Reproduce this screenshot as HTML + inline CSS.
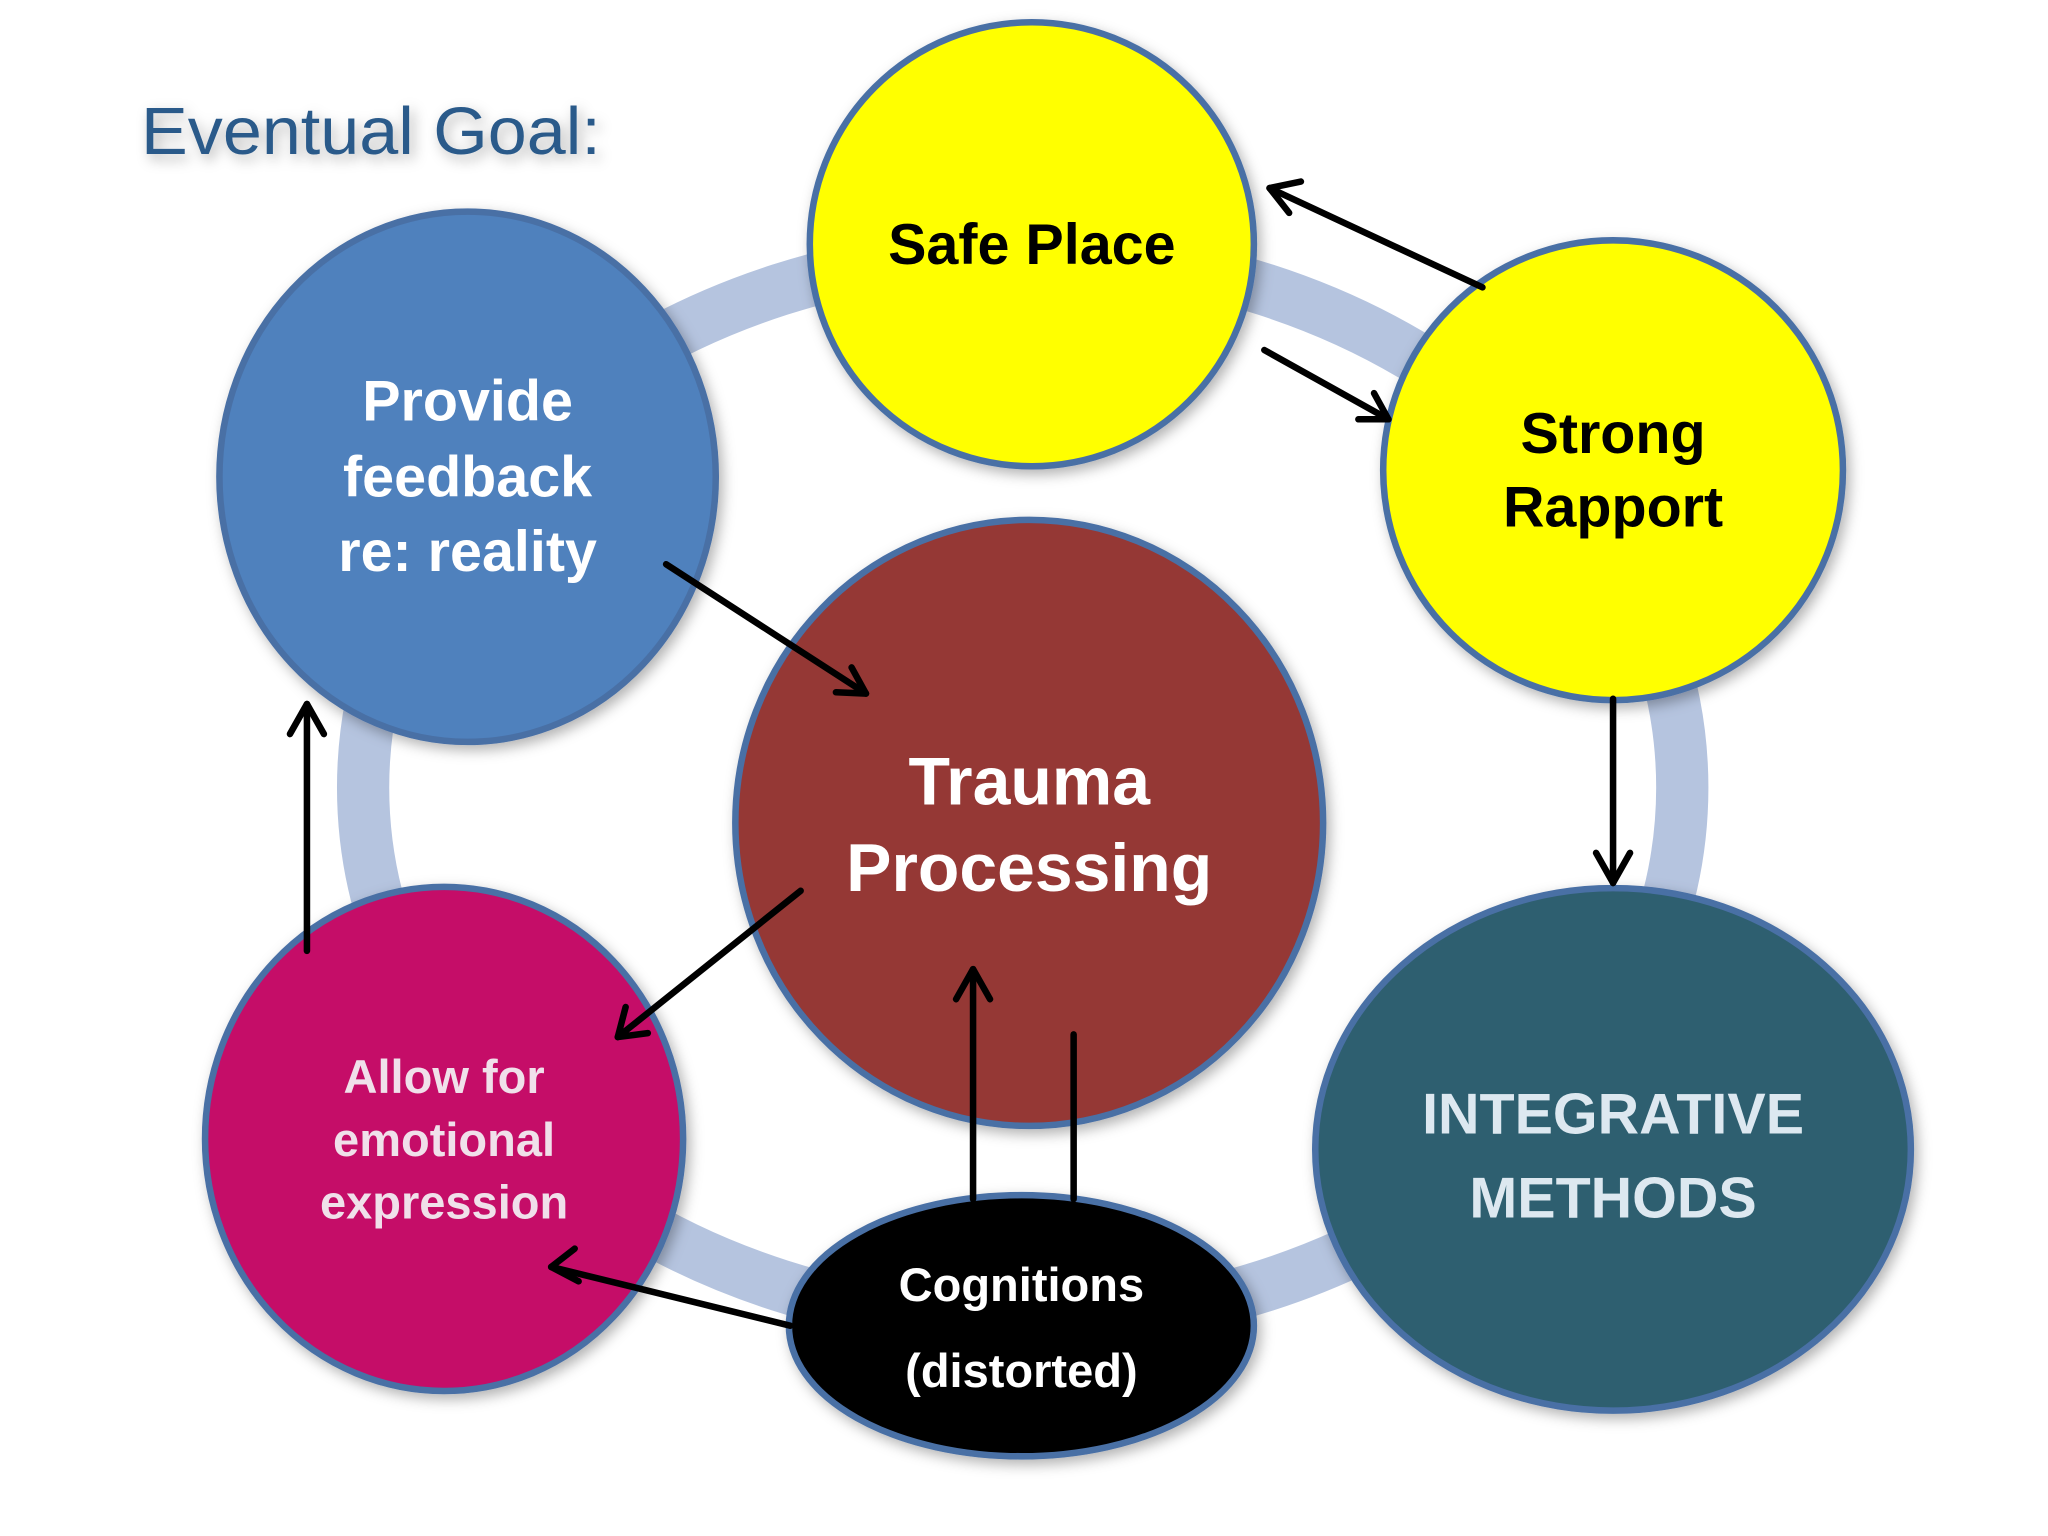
<!DOCTYPE html>
<html><head><meta charset="utf-8"><style>
html,body{margin:0;padding:0;background:#fff;}
svg{display:block;}
text{font-family:"Liberation Sans",sans-serif;font-weight:bold;}
</style></head><body>
<svg width="2048" height="1536" viewBox="0 0 1568 1176" xmlns="http://www.w3.org/2000/svg">
<defs>
<filter id="sh" x="-20%" y="-20%" width="140%" height="140%"><feDropShadow dx="3" dy="4" stdDeviation="5" flood-opacity="0.3"/></filter>
</defs>
<rect width="1568" height="1176" fill="#fff"/>
<text x="108" y="118" font-size="51" fill="#2a5a8a" textLength="352" lengthAdjust="spacingAndGlyphs" style="font-weight:normal" filter="url(#sh)">Eventual Goal:</text>
<ellipse cx="783" cy="603" rx="505" ry="410" fill="none" stroke="#b5c4df" stroke-width="40"/>

<g stroke="#4a6fa5" stroke-width="5" filter="url(#sh)">
<circle cx="790" cy="187" r="170" fill="#ffff00"/>
<circle cx="1235" cy="360" r="176" fill="#ffff00"/>
<ellipse cx="358" cy="365" rx="190" ry="203" fill="#4f81bd"/>
<ellipse cx="788" cy="630" rx="225" ry="232" fill="#953735"/>
<ellipse cx="1235" cy="880" rx="228" ry="200" fill="#2d5f6f"/>
<ellipse cx="340" cy="872" rx="183" ry="193" fill="#c50b68"/>
<ellipse cx="782" cy="1015" rx="178" ry="100" fill="#000"/>
</g>

<g font-size="44" text-anchor="middle" fill="#000">
<text x="790" y="202">Safe Place</text>
<text x="1235" y="347">Strong</text>
<text x="1235" y="403">Rapport</text>
</g>
<g font-size="44" text-anchor="middle" fill="#fff">
<text x="358" y="322">Provide</text>
<text x="358" y="380">feedback</text>
<text x="358" y="437">re: reality</text>
</g>
<g font-size="52" text-anchor="middle" fill="#fff">
<text x="788" y="616">Trauma</text>
<text x="788" y="682">Processing</text>
</g>
<g font-size="44" text-anchor="middle" fill="#dde8f0">
<text x="1235" y="868">INTEGRATIVE</text>
<text x="1235" y="932">METHODS</text>
</g>
<g font-size="36" text-anchor="middle" fill="#f0e0ea">
<text x="340" y="837">Allow for</text>
<text x="340" y="885">emotional</text>
<text x="340" y="933">expression</text>
</g>
<g font-size="36" text-anchor="middle" fill="#fff">
<text x="782" y="996">Cognitions</text>
<text x="782" y="1062">(distorted)</text>
</g>

<g stroke="#000" stroke-width="5" fill="none" stroke-linecap="round" stroke-linejoin="round">
<line x1="1135" y1="220" x2="972" y2="144"/><polyline points="996,139 972,144 987,163"/>
<line x1="968" y1="268" x2="1063" y2="321"/><polyline points="1040,321 1063,321 1052,301"/>
<line x1="1235" y1="535" x2="1235" y2="676"/><polyline points="1222,653 1235,676 1248,653"/>
<line x1="510" y1="432" x2="663" y2="531"/><polyline points="640,530 663,531 652,511"/>
<line x1="613" y1="682" x2="473" y2="794"/><polyline points="479,771 473,794 496,791"/>
<line x1="235" y1="728" x2="235" y2="539"/><polyline points="222,562 235,539 248,562"/>
<line x1="745" y1="918" x2="745" y2="742"/><polyline points="732,765 745,742 758,765"/>
<line x1="822" y1="792" x2="822" y2="918"/>
<line x1="605" y1="1015" x2="422" y2="970"/><polyline points="440,956 422,970 443,981"/>
</g>
</svg>
</body></html>
